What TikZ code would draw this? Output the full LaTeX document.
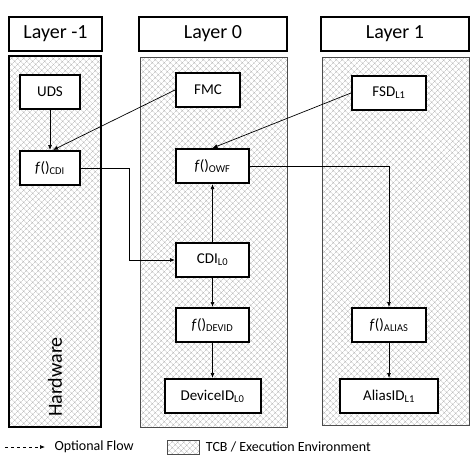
\documentclass[tikz,border=0pt]{standalone}
\usepackage{fontspec}
\setmainfont{Carlito}
\usetikzlibrary{positioning,patterns.meta,arrows.meta}

\newcommand{\fn}[1]{\textit{f}()\textsubscript{#1}}

\begin{document}
\begin{tikzpicture}[x=1pt, y=-1pt, node distance=40pt,
	block/.style = { rectangle, draw=black, line width=2pt, fill=white,
	minimum height=34pt, inner sep=2pt, font=\fontsize{15}{17}\selectfont },
	header/.style = { rectangle, draw=black, line width=2pt, fill=white,
	minimum height=34pt, font=\fontsize{20}{22}\selectfont },
	layer/.style = { rectangle, draw=black!70, line width=0.9pt,
	pattern={Hatch[angle=45,distance=4pt,line width=0.35pt]},
	pattern color=black!30 },
	flow/.style = { -{Latex[length=5pt,width=4pt]}, line width=0.7pt },
	legend/.style = { font=\fontsize{14}{16}\selectfont, anchor=west } ]

  \useasboundingbox (0,0) rectangle (474,474);

  % layer columns and headers
  \node [name=colm, layer, draw=black, line width=2pt,
	minimum width=92pt, minimum height=371pt] at (55,241.5) {};
  \node [name=col0, layer, minimum width=147pt, minimum height=370pt] at (213.5,242) {};
  \node [name=col1, layer, minimum width=147pt, minimum height=368pt] at (395.5,241) {};
  \node [name=hdrm, header, minimum width=93pt] at (55.5,34) { Layer -1 };
  \node [name=hdr0, header, minimum width=148pt] at (213,34) { Layer 0 };
  \node [name=hdr1, header, minimum width=148pt] at (395,34) { Layer 1 };

  \node [name=hw, rotate=90, font=\fontsize{20}{22}\selectfont] at (55,377) { Hardware };

  % layer -1
  \node [name=uds, block, minimum width=60pt] at (50,92) { UDS };
  \node [name=cdifn, block, minimum width=60pt, below=of uds] { \fn{CDI} };

  % layer 0
  \node [name=owf, block, minimum width=73pt] at (212.5,166) { \fn{OWF} };
  \node [name=fmc, block, minimum width=64pt,
	above=40pt of owf.north west, anchor=south west] { FMC };
  \node [name=cdi, block, minimum width=73pt, below=58pt of owf] { CDI\textsubscript{L0} };
  \node [name=devidfn, block, minimum width=73pt, below=29pt of cdi] { \fn{DEVID} };
  \node [name=deviceid, block, minimum width=96pt, below=35pt of devidfn] { DeviceID\textsubscript{L0} };

  % layer 1
  \node [name=aliasfn, block, minimum width=74pt, right=101pt of devidfn] { \fn{ALIAS} };
  \node [name=fsd, block, minimum width=74pt, above=196pt of aliasfn] { FSD\textsubscript{L1} };
  \node [name=aliasid, block, minimum width=98pt, below=35pt of aliasfn] { AliasID\textsubscript{L1} };

  % flows
  \draw [flow] (uds) -- (cdifn);
  \draw [flow] (fmc.west) -- ([xshift=3pt]cdifn.north);
  \draw [flow] (fsd.west) -- (owf.north);
  \draw [flow] (cdifn.east) -- ++(48,0) |- (cdi.west);
  \draw [flow] (cdi) -- (owf);
  \draw [flow] (cdi) -- (devidfn);
  \draw [flow] (devidfn) -- (deviceid);
  \draw [flow] (owf.east) -| (aliasfn.north);
  \draw [flow] (aliasfn) -- (aliasid);

  % legend
  \coordinate (optstart) at (5,447);
  \coordinate (optend) at (45,447);
  \draw [flow, dash pattern=on 3pt off 3pt] (optstart) -- (optend);
  \node [name=optlbl, legend] at (51,447) { Optional Flow };
  \node [name=tcbkey, layer, minimum width=32pt, minimum height=14pt] at (183,447) {};
  \node [name=tcblbl, legend, right=3pt of tcbkey] { TCB / Execution Environment };
\end{tikzpicture}
\end{document}
